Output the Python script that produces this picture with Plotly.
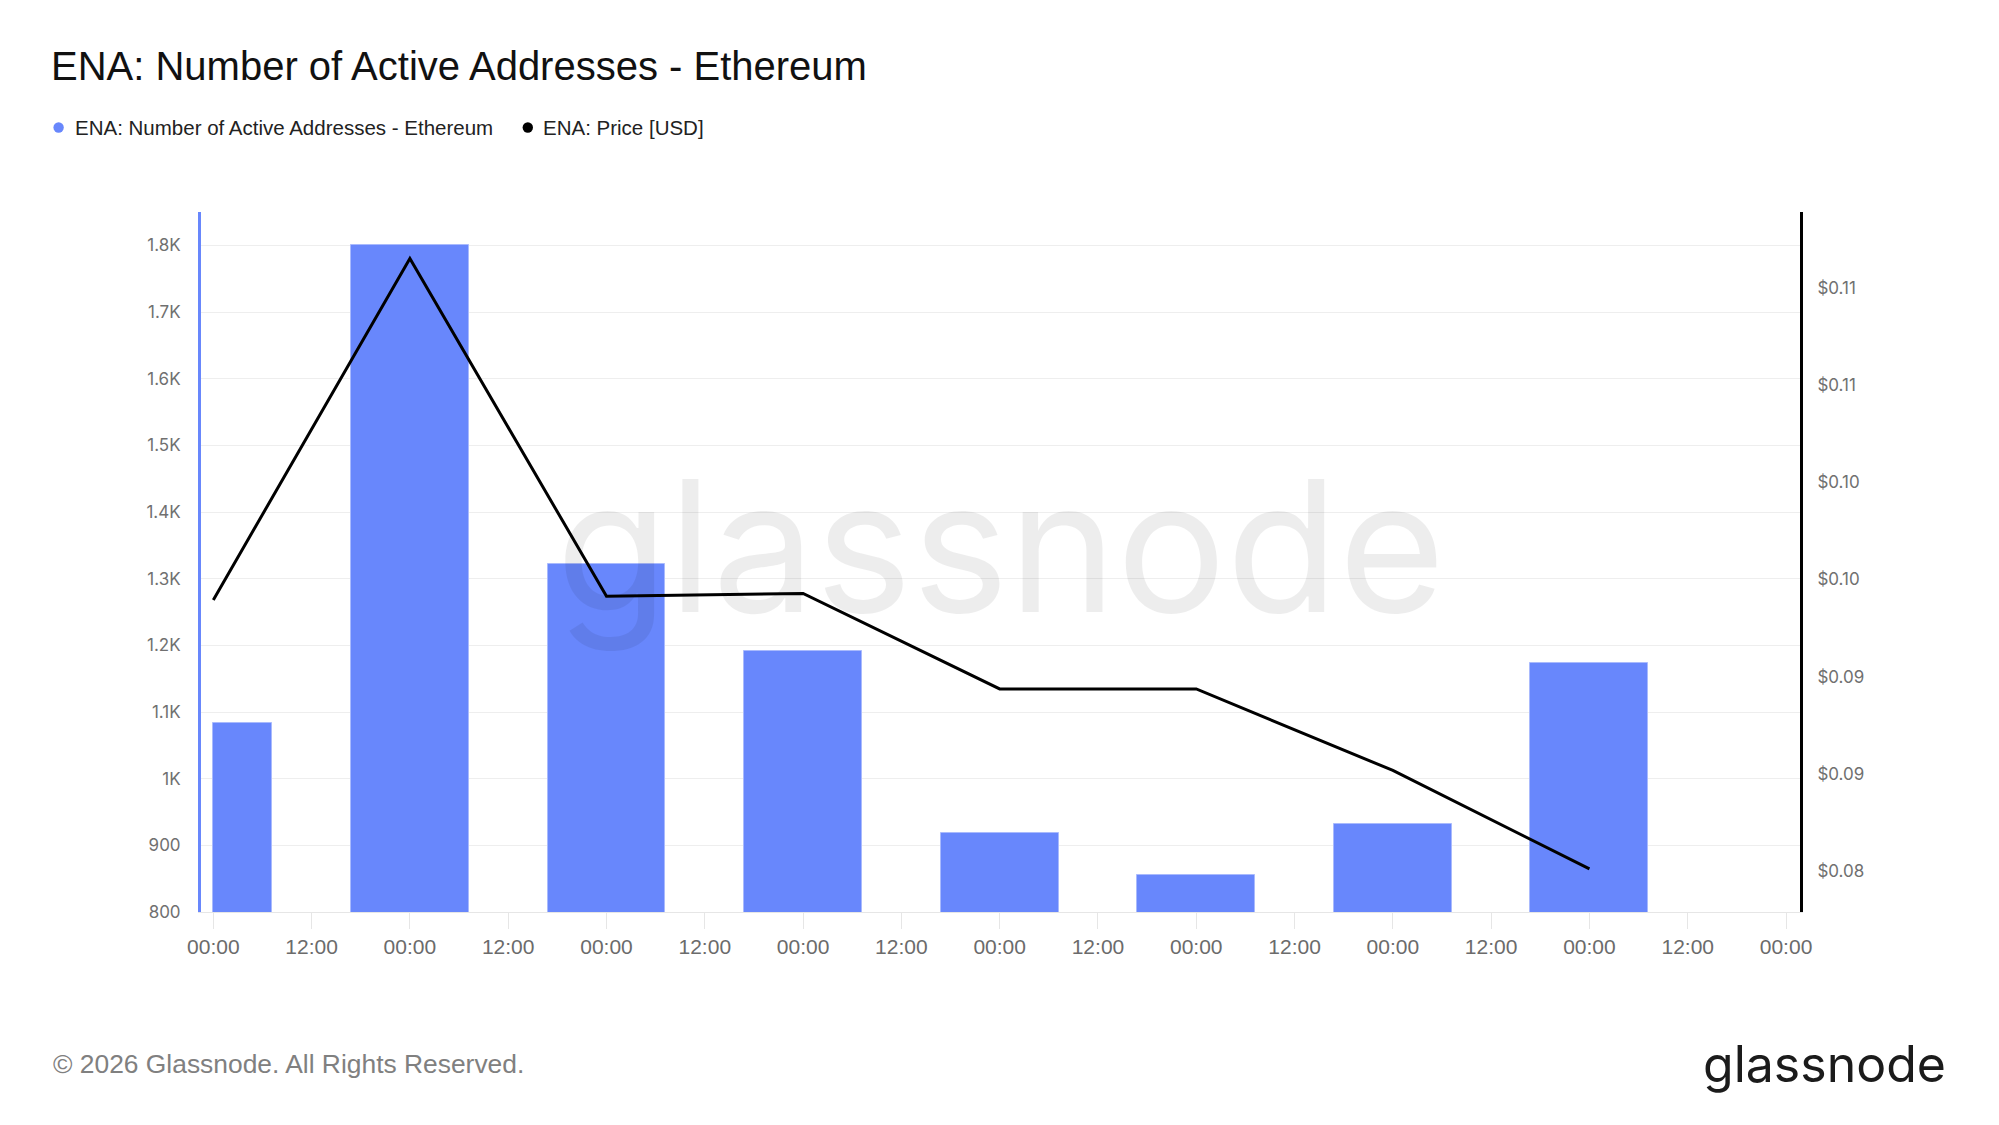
import plotly.graph_objects as go
import pandas as pd

# ---------------- data ----------------
dates = ["2026-02-01", "2026-02-02", "2026-02-03", "2026-02-04",
         "2026-02-05", "2026-02-06", "2026-02-07", "2026-02-08"]
active_addresses = [1083, 1800, 1322, 1191, 918, 855, 932, 1173]
price_usd = [0.09645, 0.11401, 0.09664, 0.09678, 0.09187, 0.09187, 0.08768, 0.08262]

left_tick_vals = [800, 900, 1000, 1100, 1200, 1300, 1400, 1500, 1600, 1700, 1800]
left_tick_text = ["800", "900", "1K", "1.1K", "1.2K", "1.3K", "1.4K", "1.5K", "1.6K", "1.7K", "1.8K"]
right_tick_vals = [0.0825, 0.0875, 0.0925, 0.0975, 0.1025, 0.1075, 0.1125]
right_tick_text = ["$0.08", "$0.09", "$0.09", "$0.10", "$0.10", "$0.11", "$0.11"]

title_text = "ENA: Number of Active Addresses - Ethereum"
series_names = ["ENA: Number of Active Addresses - Ethereum", "ENA: Price [USD]"]

# ---------------- geometry / style ----------------
W, H = 1999, 1125
L, R, T, B = 201, 199, 212, 213
PW, PH = W - L - R, H - T - B
BAR_COLOR = "#6887fc"
DAY_MS = 86400000

def px_x(px):
    return (px - L) / PW

def px_y(py):
    return (H - B - py) / PH

d = pd.to_datetime(dates)
x_start = d[0] - pd.Timedelta(days=0.0626)
x_end = d[-1] + pd.Timedelta(days=1.071)

bar_widths = [0.3 * DAY_MS] + [0.6 * DAY_MS] * (len(dates) - 1)
bar_offsets = [0] + [-0.3 * DAY_MS] * (len(dates) - 1)

fig = go.Figure()
fig.add_trace(go.Bar(
    x=d, y=active_addresses, name=series_names[0],
    width=bar_widths, offset=bar_offsets,
    marker=dict(color=BAR_COLOR, line=dict(color="#a9bafd", width=1)),
    yaxis="y", showlegend=False, hoverinfo="skip",
))
fig.add_trace(go.Scatter(
    x=d, y=price_usd, name=series_names[1], mode="lines",
    line=dict(color="#000000", width=3),
    yaxis="y2", showlegend=False, hoverinfo="skip",
))

tick_font = dict(family="Inter, Liberation Sans, sans-serif", size=17, color="#707070")

fig.update_layout(
    width=W, height=H, autosize=False,
    margin=dict(l=L, r=R, t=T, b=B, pad=0),
    paper_bgcolor="white", plot_bgcolor="white",
    bargap=0,
    title=dict(text=title_text, x=51 / W, xref="container", xanchor="left",
               y=1 - 66 / H, yref="container", yanchor="middle",
               font=dict(family="Liberation Sans, Arial, sans-serif", size=40, color="#111111")),
    xaxis=dict(
        type="date", range=[x_start, x_end],
        dtick=12 * 3600 * 1000, tick0=d[0], tickformat="%H:%M",
        showgrid=False, zeroline=False,
        showline=True, linecolor="#e6e6e6", linewidth=1,
        ticks="outside", ticklen=16, tickcolor="#e6e6e6", tickwidth=1,
        tickfont=dict(family="Liberation Sans, Arial, sans-serif", size=21, color="#6b6b6b"),
    ),
    yaxis=dict(
        range=[800, 1850], tickvals=left_tick_vals, ticktext=left_tick_text,
        showgrid=True, gridcolor="#eeeeee", gridwidth=1, zeroline=False,
        showline=True, linecolor=BAR_COLOR, linewidth=3,
        ticks="", ticklabelstandoff=14, tickfont=tick_font,
    ),
    yaxis2=dict(
        range=[0.0804, 0.1164], tickvals=right_tick_vals, ticktext=right_tick_text,
        overlaying="y", side="right", showgrid=False, zeroline=False,
        showline=True, linecolor="#000000", linewidth=3,
        ticks="", ticklabelstandoff=11, tickfont=tick_font,
    ),
)

annotations = []
shapes = []

# legend (custom, circle markers)
legend_y = px_y(127.5)
for cx, tx, color, name in [(58.6, 72.5, BAR_COLOR, series_names[0]),
                            (527.8, 540.5, "#000000", series_names[1])]:
    r = 5.2
    shapes.append(dict(type="circle", xref="paper", yref="paper",
                       x0=px_x(cx - r), x1=px_x(cx + r), y0=px_y(127.5 + r), y1=px_y(127.5 - r),
                       fillcolor=color, line=dict(width=0)))
    annotations.append(dict(text=name, xref="paper", yref="paper", x=px_x(tx), y=legend_y,
                            xanchor="left", yanchor="middle", showarrow=False,
                            font=dict(family="Liberation Sans, Arial, sans-serif", size=20.5, color="#222222")))

# watermark
annotations.append(dict(text="glassnode", xref="paper", yref="paper", x=px_x(1000), y=px_y(545),
                        xanchor="center", yanchor="middle", showarrow=False,
                        font=dict(family="Inter, sans-serif", size=183, color="rgba(0,0,0,0.07)")))

# footer
annotations.append(dict(text="© 2026 Glassnode. All Rights Reserved.", xref="paper", yref="paper",
                        x=px_x(51), y=px_y(1064), xanchor="left", yanchor="middle", showarrow=False,
                        font=dict(family="Liberation Sans, Arial, sans-serif", size=26.4, color="#808080")))
annotations.append(dict(text="glassnode", xref="paper", yref="paper",
                        x=px_x(1948), y=px_y(1064), xanchor="right", yanchor="middle", showarrow=False,
                        font=dict(family="Inter, sans-serif", size=50, color="#1b1b1b")))

fig.update_layout(annotations=annotations, shapes=shapes)

fig.write_html("out.html")
